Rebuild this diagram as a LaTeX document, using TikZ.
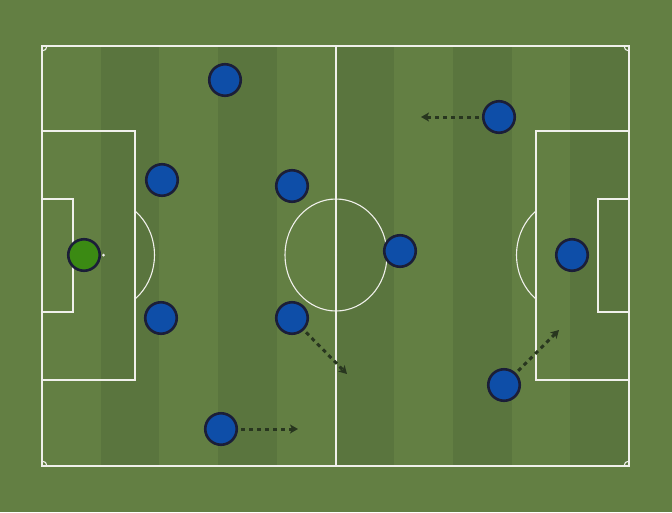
\documentclass[tikz,border=0pt]{standalone}
\usetikzlibrary{arrows.meta}
\definecolor{grass}{RGB}{99,127,67}
\definecolor{grassdark}{RGB}{90,117,62}
\definecolor{pline}{RGB}{240,240,235}
\definecolor{pfill}{RGB}{14,78,168}
\definecolor{kfill}{RGB}{59,138,19}
\definecolor{pedge}{RGB}{27,30,56}
\definecolor{arrc}{RGB}{40,54,31}
\tikzset{
  pitchline/.style={draw=pline, line width=1.1pt},
  player/.style={circle, draw=pedge, fill=pfill, line width=2.6pt, minimum size=31.5pt, inner sep=0pt},
  keeper/.style={player, fill=kfill},
  runarrow/.style={draw=arrc, line width=3pt, dash pattern=on 4pt off 4pt, shorten <=3pt, -{Stealth[length=8pt,width=9pt,inset=2pt]}}
}
\begin{document}
\begin{tikzpicture}[x=1pt,y=-1pt]
\fill[grass] (0,0) rectangle (672,512);
\useasboundingbox (0,0) rectangle (672,512);
% stripes
\foreach \i in {1,3,5,7,9}{
  \fill[grassdark] ({42+\i*58.7},46) rectangle ({42+(\i+1)*58.7},466);
}
% outer
\draw[pitchline] (42,46) rectangle (629,466);
\draw[pitchline] (336,46) -- (336,466);
\draw[pitchline] (336,255) ellipse [x radius=51, y radius=56];
\fill[pline] (336,255) circle (1.2);
% left box
\draw[pitchline] (42,131) rectangle (135,380);
\draw[pitchline] (42,199) rectangle (73,312);
\fill[pline] (103.5,255) circle (1.5);
\begin{scope}
\clip (135,0) rectangle (300,512);
\draw[pitchline] (103.5,255) ellipse [x radius=51, y radius=56];
\end{scope}
% right box
\draw[pitchline] (536,131) rectangle (629,380);
\draw[pitchline] (598,199) rectangle (629,312);
\fill[pline] (567.5,255) circle (1.5);
\begin{scope}
\clip (380,0) rectangle (536,512);
\draw[pitchline] (567.5,255) ellipse [x radius=51, y radius=56];
\end{scope}
% corner arcs
\draw[pitchline] (47,46) arc[start angle=0, end angle=90, radius=5];
\draw[pitchline] (624,46) arc[start angle=180, end angle=90, radius=5];
\draw[pitchline] (47,466) arc[start angle=0, end angle=-90, radius=5];
\draw[pitchline] (624,466) arc[start angle=180, end angle=270, radius=5];
% arrow targets
\coordinate (t1) at (298,429);
\coordinate (t2) at (421,117);
\coordinate (t3) at (347,374);
\coordinate (t4) at (559,330);
% players
\node[keeper] (gk) at (84,255) {};
\node[player] (p1) at (225,80) {};
\node[player] (p2) at (162,180) {};
\node[player] (p3) at (292,186) {};
\node[player] (p4) at (161,318) {};
\node[player] (p5) at (292,318) {};
\node[player] (p6) at (221,429) {};
\node[player] (p7) at (499,117) {};
\node[player] (p8) at (400,251) {};
\node[player] (p9) at (572,255) {};
\node[player] (p10) at (504,385) {};
% runs
\draw[runarrow] (p6) -- (t1);
\draw[runarrow] (p7) -- (t2);
\draw[runarrow] (p5) -- (t3);
\draw[runarrow] (p10) -- (t4);
\end{tikzpicture}
\end{document}
